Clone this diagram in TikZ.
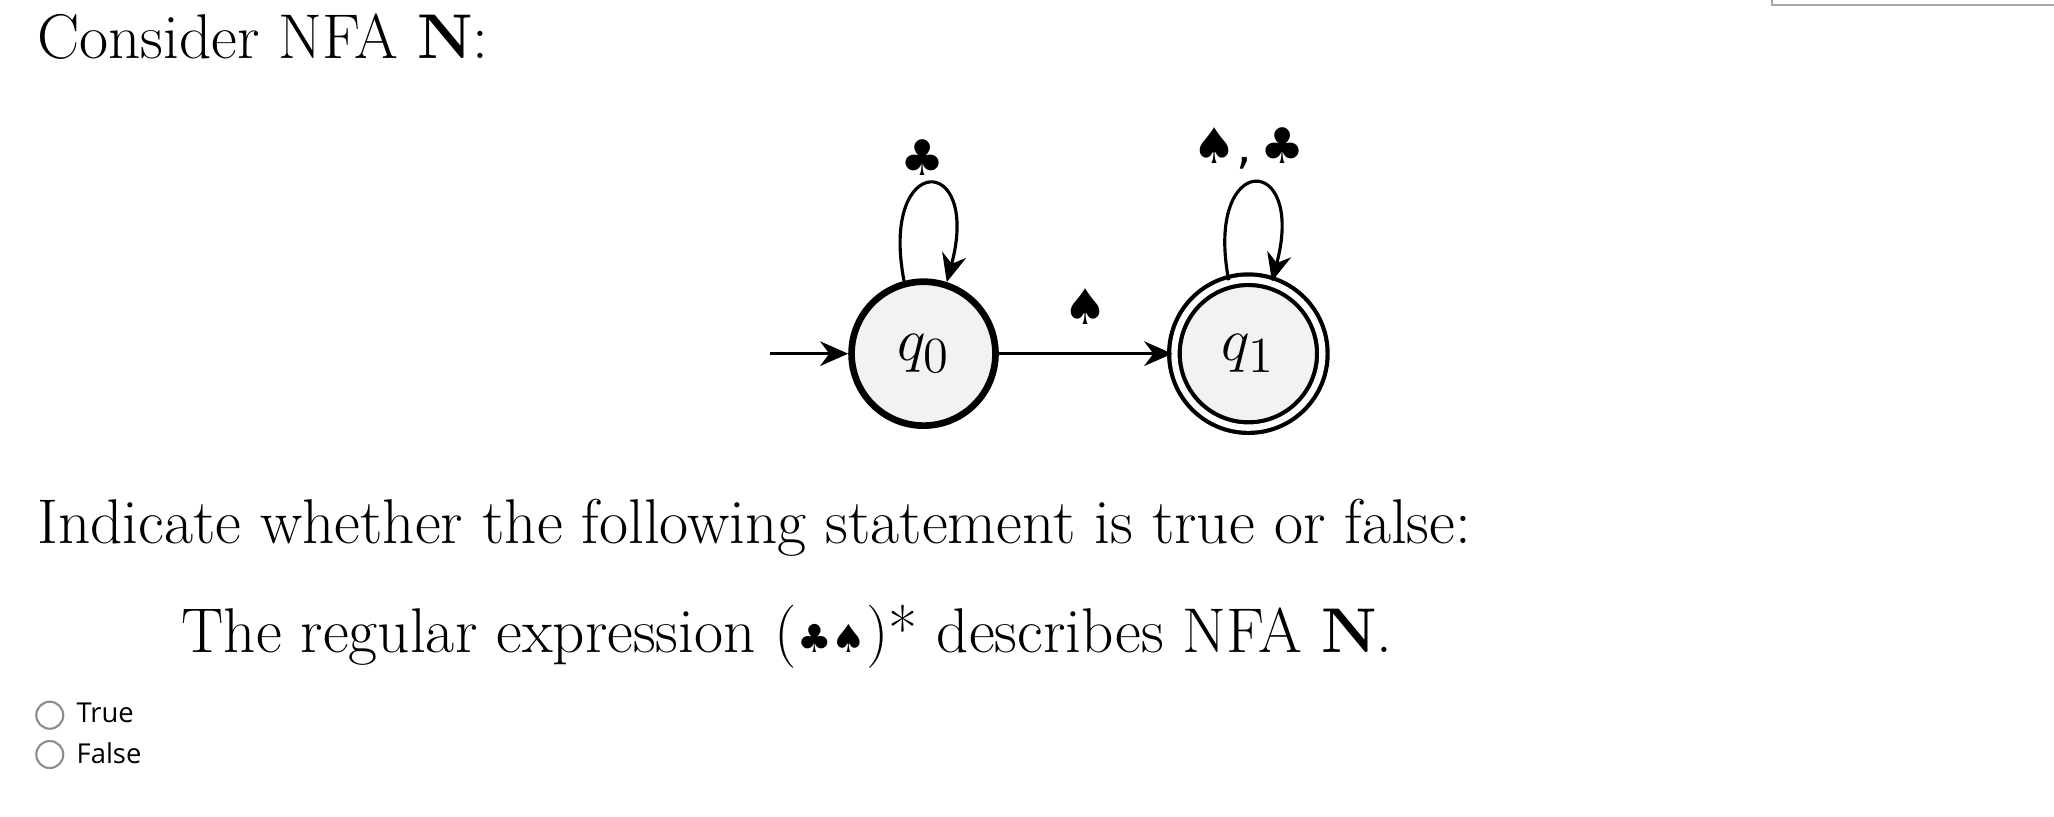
\documentclass[tikz,border=0pt]{standalone}
\usepackage{fontspec}
\newfontfamily\sym{DejaVu Sans}
\newfontfamily\ui{Open Sans}
\usetikzlibrary{arrows.meta}
\begin{document}
\begin{tikzpicture}[x=0.0131cm,y=-0.0131cm,
  st/.style={circle,draw,line width=1.9pt,fill=black!5,minimum size=1.44cm,inner sep=0pt,font=\fontsize{19}{22}\selectfont},
  acc/.style={st,double,double distance=1.8pt,line width=1.2pt,minimum size=1.48cm},
  edge/.style={-{Stealth[length=8pt,width=7pt]},line width=0.9pt},
  big/.style={anchor=base west,inner sep=0pt,font=\fontsize{18}{22}\selectfont},
  lbl/.style={font=\sym\fontsize{14}{16}\selectfont,inner sep=0pt},
  radio/.style={circle,draw=black!45,line width=0.6pt,minimum size=0.27cm,inner sep=0pt,fill=white},
  ui/.style={anchor=west,inner sep=0pt,font=\ui\fontsize{7.8}{10}\selectfont}]
\useasboundingbox (0,0) rectangle (1568,623);
\draw[black!35,line width=0.6pt] (1353,-2) -- (1353,4) -- (1570,4);
\node[big] (t1) at (28,45) {Consider NFA \textbf{N}:};
\node[st] (q0) at (705,270) {$q_0$};
\node[acc] (q1) at (953,270) {$q_1$};
\coordinate (init) at (588,270);
\draw[edge] (init) -- (q0);
\draw[edge] (q0) -- node[lbl,above=0.28cm] (a1) {♠} (q1);
\draw[edge] (q0.105) .. controls +(-0.25cm,1.3cm) and +(0.35cm,1.3cm) .. (q0.72);
\draw[edge] (q1.105) .. controls +(-0.25cm,1.3cm) and +(0.35cm,1.3cm) .. (q1.72);
\node[lbl] (a0) at (704,120) {♣};
\node[lbl] (a2) at (953,113) {♠,\,♣};
\node[big] (t2) at (28,415) {Indicate whether the following statement is true or false:};
\node[big] (t3) at (138,498) {The regular expression ({\sym\fontsize{11}{14}\selectfont ♣♠})* describes NFA \textbf{N}.};
\node[radio] (r1) at (38,546) {};
\node[radio] (r2) at (38,576) {};
\node[ui] (l1) at (58,544) {True};
\node[ui] (l2) at (58,575) {False};
\end{tikzpicture}
\end{document}
